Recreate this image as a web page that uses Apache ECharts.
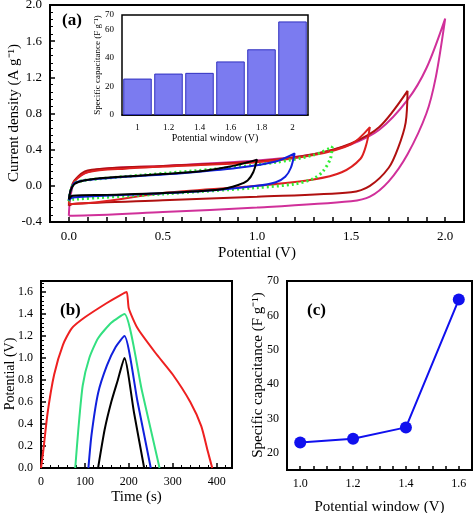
<!DOCTYPE html>
<html>
<head>
<meta charset="utf-8">
<script src="https://cdn.jsdelivr.net/npm/echarts@6/dist/echarts.min.js"></script>
<style>html,body{margin:0;padding:0;background:#fff}#c{width:474px;height:513px}</style>
</head>
<body>
<div id="c"></div>
<script>
// (a) CV loops: [potential, current]
var cv10 = [[0,-0.15],[0.01,-0.05],[0.03,0.02],[0.08,0.06],[0.2,0.09],[0.5,0.13],[0.7,0.16],[0.85,0.21],[0.95,0.26],[1.0,0.29],[0.98,0.15],[0.95,0.06],[0.9,0.01],[0.8,-0.04],[0.5,-0.08],[0.2,-0.1],[0.02,-0.11],[0,-0.15]];
var cv12 = [[0,-0.16],[0.01,-0.05],[0.03,0.03],[0.08,0.06],[0.3,0.1],[0.6,0.14],[0.9,0.2],[1.1,0.27],[1.2,0.36],[1.18,0.2],[1.15,0.1],[1.1,0.04],[1.0,0.0],[0.7,-0.06],[0.3,-0.1],[0.02,-0.13],[0,-0.16]];
var cv14 = [[0,-0.17],[0.01,-0.05],[0.03,0.03],[0.08,0.06],[0.4,0.12],[0.8,0.19],[1.1,0.26],[1.3,0.34],[1.4,0.43],[1.39,0.3],[1.35,0.16],[1.3,0.08],[1.2,0.02],[1.0,-0.02],[0.5,-0.09],[0.02,-0.15],[0,-0.17]];
var cv16 = [[0,-0.2],[0.01,-0.05],[0.03,0.05],[0.1,0.15],[0.3,0.19],[0.7,0.23],[1.0,0.26],[1.3,0.34],[1.5,0.46],[1.6,0.65],[1.58,0.45],[1.55,0.3],[1.45,0.15],[1.3,0.07],[1.0,0.0],[0.5,-0.08],[0.02,-0.2],[0,-0.2]];
var cv18 = [[0,-0.22],[0.01,-0.05],[0.03,0.06],[0.1,0.17],[0.5,0.22],[1.0,0.27],[1.3,0.35],[1.5,0.47],[1.65,0.65],[1.8,1.05],[1.79,0.7],[1.75,0.42],[1.7,0.2],[1.6,0.0],[1.5,-0.07],[1.0,-0.12],[0.5,-0.16],[0.02,-0.2],[0,-0.22]];
var cv20 = [[0,-0.33],[0.01,-0.1],[0.04,0.08],[0.15,0.18],[0.5,0.22],[1.0,0.28],[1.3,0.35],[1.5,0.46],[1.65,0.62],[1.8,0.95],[1.9,1.3],[2.0,1.85],[1.95,1.2],[1.9,0.8],[1.8,0.35],[1.7,0.05],[1.6,-0.12],[1.5,-0.17],[1.0,-0.24],[0.5,-0.29],[0.02,-0.33],[0,-0.33]];
// inset bars
var insetCats = ['1','1.2','1.4','1.6','1.8','2'];
var insetVals = [25.5, 29, 29.5, 37.5, 46, 65.5];
// (b) GCD curves: [time, potential]
var gcd16 = [[0,0],[5,0.15],[15,0.5],[30,0.85],[50,1.12],[70,1.27],[100,1.37],[150,1.5],[180,1.57],[195,1.6],[200,1.45],[220,1.27],[260,1.05],[300,0.85],[340,0.6],[365,0.38],[380,0.15],[390,0]];
var gcd14 = [[78,0],[85,0.35],[95,0.75],[110,1.0],[130,1.18],[160,1.32],[190,1.4],[230,0.7],[270,0]];
var gcd12 = [[108,0],[115,0.3],[130,0.68],[150,0.93],[170,1.1],[190,1.2],[220,0.6],[250,0]];
var gcd10 = [[130,0],[145,0.35],[160,0.6],[175,0.8],[190,1.0],[212,0.5],[235,0]];
// (c) specific capacitance vs window
var winVals = [[1.0,23],[1.2,24.1],[1.4,27.4],[1.6,64.6]];

var F = 'Liberation Serif';
function ax(o){
  var base = {
    axisLine:{onZero:false,lineStyle:{color:'#000',width:2}},
    axisTick:{inside:true,length:5,lineStyle:{color:'#000',width:1.5}},
    minorTick:{show:true,length:3,lineStyle:{color:'#000'}},
    splitLine:{show:false},
    axisLabel:{color:'#000',fontFamily:F,fontSize:13},
    nameTextStyle:{color:'#000',fontFamily:F,fontSize:15},
    nameLocation:'middle'
  };
  for (var k in o) base[k] = o[k];
  return base;
}
function line(data, color, xi, extra){
  var s = {type:'line',data:data,xAxisIndex:xi,yAxisIndex:xi,showSymbol:false,smooth:0.3,
    lineStyle:{color:color,width:2},z:3};
  for (var k in extra) s[k] = extra[k];
  return s;
}
function vname(text, x, y, size){
  return {type:'text',x:x,y:y,rotation:Math.PI/2,z:10,
    style:{text:text,align:'center',verticalAlign:'middle',font:size+'px "Liberation Serif"',fill:'#000'}};
}
var chart = echarts.init(document.getElementById('c'));
chart.setOption({
  animation:false,
  grid:[
    {left:50,top:5,width:414,height:217,show:true,borderColor:'#000',borderWidth:2,outerBoundsMode:'none'},
    {left:122,top:15,width:186,height:100,show:true,borderColor:'#000',borderWidth:1.5,backgroundColor:'#fff',z:5,outerBoundsMode:'none'},
    {left:41,top:281,width:191,height:187,show:true,borderColor:'#000',borderWidth:2,outerBoundsMode:'none'},
    {left:287,top:281,width:185,height:189,show:true,borderColor:'#000',borderWidth:2,outerBoundsMode:'none'}
  ],
  xAxis:[
    ax({gridIndex:0,type:'value',min:-0.1,max:2.1,interval:0.1,name:'Potential (V)',nameGap:24,minorTick:{show:false},
      axisLabel:{color:'#000',fontFamily:F,fontSize:13,showMaxLabel:false,formatter:function(v){var r=Math.round(v*10);return (r>=0&&r%5===0)?(r/10).toFixed(1):'';}}}),
    ax({gridIndex:1,type:'category',data:insetCats,name:'Potential window (V)',nameGap:18,
      axisLabel:{color:'#000',fontFamily:F,fontSize:9},nameTextStyle:{color:'#000',fontFamily:F,fontSize:10},
      axisTick:{show:false},minorTick:{show:false},axisLine:{lineStyle:{color:'#000',width:1.5}}}),
    ax({gridIndex:2,type:'value',min:0,max:435,interval:100,name:'Time (s)',nameGap:22,
      axisLabel:{color:'#000',fontFamily:F,fontSize:12,formatter:function(v){return v>400?'':v;}}}),
    ax({gridIndex:3,type:'value',min:0.95,max:1.65,name:'Potential window (V)',nameGap:30,
      axisLabel:{color:'#000',fontFamily:F,fontSize:12,showMaxLabel:false,formatter:function(v){var r=Math.round(v*100);return (r>=100&&r<=160&&r%20===0)?(r/100).toFixed(1):'';}},
      interval:0.05,axisTick:{inside:true,length:4,lineStyle:{color:'#000',width:1.5}},minorTick:{show:false}})
  ],
  yAxis:[
    ax({gridIndex:0,type:'value',min:-0.4,max:2.0,interval:0.4,
      axisLabel:{color:'#000',fontFamily:F,fontSize:13,formatter:function(v){return v.toFixed(1);}}}),
    ax({gridIndex:1,type:'value',min:0,max:70,interval:20,
      axisLabel:{color:'#000',fontFamily:F,fontSize:9},
      axisTick:{inside:true,length:3},minorTick:{show:false},axisLine:{lineStyle:{color:'#000',width:1.5}}}),
    ax({gridIndex:2,type:'value',min:0,max:1.7,interval:0.2,
      axisLabel:{color:'#000',fontFamily:F,fontSize:12,formatter:function(v){return v>1.6?'':v.toFixed(1);}}}),
    ax({gridIndex:3,type:'value',min:15,max:70,interval:5,
      axisLabel:{color:'#000',fontFamily:F,fontSize:12,formatter:function(v){return v%10===0?v:'';}},
      axisTick:{show:false},minorTick:{show:false}})
  ],
  graphic:[
    {type:'text',left:62,top:12,style:{text:'(a)',font:'bold 17px "Liberation Serif"',fill:'#000'}},
    {type:'text',left:60,top:302,style:{text:'(b)',font:'bold 17px "Liberation Serif"',fill:'#000'}},
    {type:'text',left:307,top:302,style:{text:'(c)',font:'bold 17px "Liberation Serif"',fill:'#000'}},
    vname('Current density (A g\u207B\u00B9)',14,113,15),
    vname('Specific capacitance (F g\u207B\u00B9)',98,65,9),
    vname('Potential (V)',10,374,14),
    vname('Specific capacitance (F g\u207B\u00B9)',258,375,15)
  ],
  series:[
    line(cv20,'#d0309a',0,{}),
    line(cv18,'#b01010',0,{}),
    line(cv16,'#dd2020',0,{}),
    line(cv14,'#33ee33',0,{lineStyle:{color:'#33ee33',width:3,type:[2,3]}}),
    line(cv12,'#1020dd',0,{}),
    line(cv10,'#000000',0,{}),
    {type:'bar',xAxisIndex:1,yAxisIndex:1,data:insetVals,barCategoryGap:'8%',z:6,
      itemStyle:{color:'#7b7bf0',borderColor:'#3030c0',borderWidth:1}},
    line(gcd16,'#ee2020',2,{smooth:0.2}),
    line(gcd14,'#33e080',2,{smooth:0.2}),
    line(gcd12,'#1020dd',2,{smooth:0.2}),
    line(gcd10,'#000000',2,{smooth:0.2}),
    {type:'line',xAxisIndex:3,yAxisIndex:3,data:winVals,symbol:'circle',symbolSize:12,
      itemStyle:{color:'#1010ee'},lineStyle:{color:'#1010ee',width:2}}
  ]
});
</script>
</body>
</html>
